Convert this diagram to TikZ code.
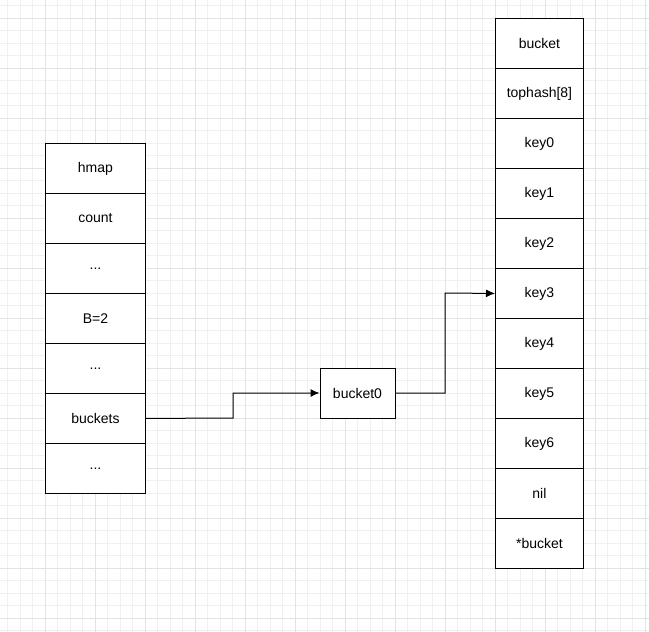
\documentclass[tikz,border=0pt]{standalone}
\usepackage{fontspec}
\setmainfont{Liberation Sans}
\usetikzlibrary{arrows.meta}
\begin{document}
\begin{tikzpicture}[x=1pt,y=-1pt,
  cell/.style={draw=black,line width=0.9pt,fill=white,minimum width=#1,minimum height=50pt,inner sep=0pt,anchor=north west,font=\fontsize{14}{16}\selectfont},
  conn/.style={line width=1pt,-{Latex[length=9pt,width=8pt]}}]
\useasboundingbox (0,0) rectangle (649,632);
\fill[white] (0,0) rectangle (649,632);
\begin{scope}
\clip (0,0) rectangle (649,632);
\foreach \i in {0,...,52} {
  \draw[line width=0.5pt,black!6] ({7.5+12.5*\i},0) -- ({7.5+12.5*\i},632);
  \draw[line width=0.5pt,black!6] (0,{5.5+12.5*\i}) -- (649,{5.5+12.5*\i});
}
\foreach \i in {0,...,13} {
  \draw[line width=0.5pt,black!11] ({-4.5+50*\i},0) -- ({-4.5+50*\i},632);
  \draw[line width=0.5pt,black!11] (0,{18+50*\i}) -- (649,{18+50*\i});
}
\end{scope}
\node[cell=100pt] (l0) at (45,143) {hmap};
\node[cell=100pt] (l1) at (45,193) {count};
\node[cell=100pt] (l2) at (45,243) {...};
\node[cell=100pt] (l3) at (45,293) {B=2};
\node[cell=100pt] (l4) at (45,343) {...};
\node[cell=100pt] (l5) at (45,393) {buckets};
\node[cell=100pt] (l6) at (45,443) {...};
\foreach \t [count=\k from 0] in {bucket,{tophash[8]},key0,key1,key2,key3,key4,key5,key6,nil,*bucket}
  \node[cell=88pt] (r\k) at (495,{18+50*\k}) {\t};
\node[draw=black,line width=0.9pt,fill=white,minimum width=75pt,minimum height=50pt,inner sep=0pt,font=\fontsize{14}{16}\selectfont] (b0) at (357.5,393) {bucket0};
\draw[conn] (l5.east) -- (233,418) -- (233,393) -- (b0.west);
\draw[conn] (b0.east) -- (445,393) -- (445,293) -- (r5.west);
\end{tikzpicture}
\end{document}
